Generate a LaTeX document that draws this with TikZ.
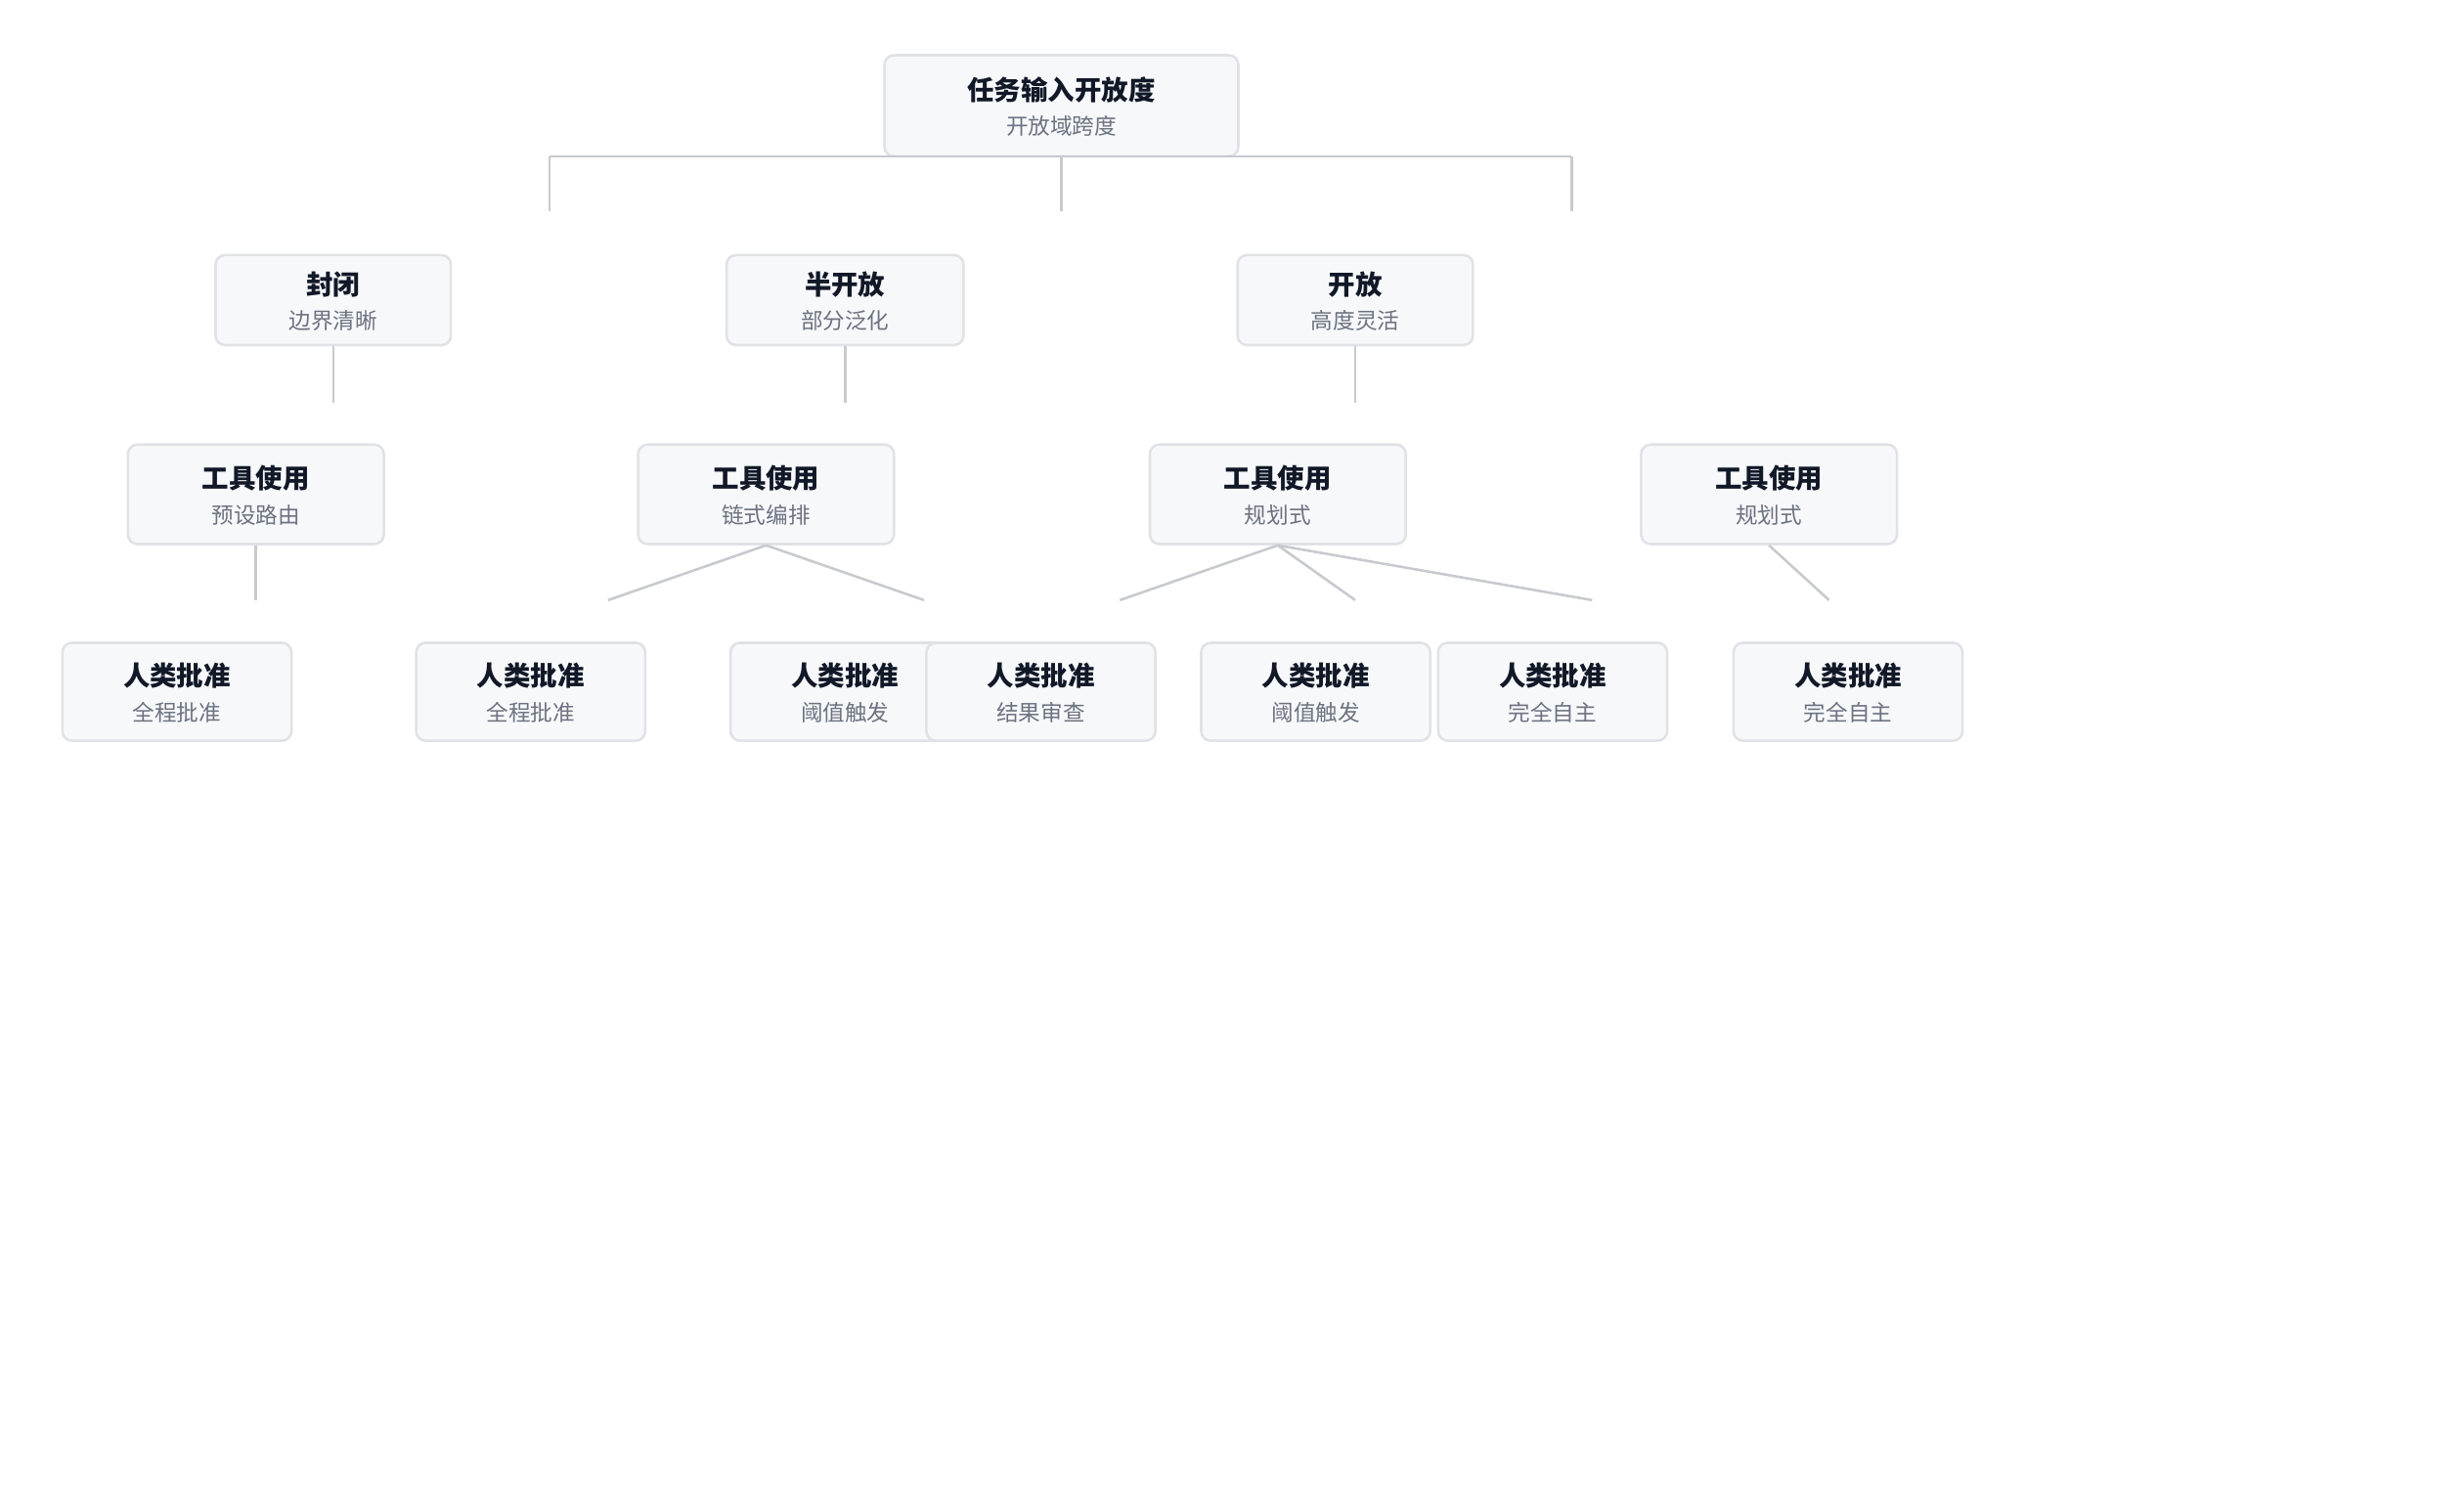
\documentclass[tikz,border=0pt]{standalone}
\usepackage{fontspec}
\newfontfamily\cjk{Noto Sans CJK SC}
\definecolor{boxfill}{HTML}{F7F8FA}
\definecolor{boxdraw}{HTML}{E0E2E6}
\definecolor{linec}{HTML}{C8CAD0}
\definecolor{tt}{HTML}{111827}
\definecolor{st}{HTML}{6B7280}
\begin{document}
\begin{tikzpicture}[x=1pt,y=-1pt,
  box/.style={draw=boxdraw,line width=1.6pt,fill=boxfill,rounded corners=6pt,align=center,inner sep=0pt,font=\cjk},
  ln/.style={draw=linec,line width=1.6pt}]
\useasboundingbox (0,0) rectangle (1560,941);
\newcommand\bx[7]{% name cx cy w h title sub
  \node[box,minimum width=#4pt,minimum height=#5pt] (#1) at (#2,#3) {};
  \node[font=\cjk\fontsize{17}{20}\selectfont\bfseries,text=tt] (#1t) at (#2,#3-10) {#6};
  \node[font=\cjk\fontsize{14}{17}\selectfont,text=st] (#1s) at (#2,#3+13) {#7};}
\bx{root}{672}{67}{224}{64}{任务输入开放度}{开放域跨度}
\coordinate (b1) at (348,99); \coordinate (b2) at (672,99); \coordinate (b3) at (995,99);
\coordinate (c1) at (348,134); \coordinate (c2) at (672,134); \coordinate (c3) at (995,134);
\draw[ln] (b1) -- (b3); \draw[ln] (b1)--(c1); \draw[ln] (b2)--(c2); \draw[ln] (b3)--(c3);
\bx{a1}{211}{190}{149}{57}{封闭}{边界清晰}
\bx{a2}{535}{190}{150}{57}{半开放}{部分泛化}
\bx{a3}{858}{190}{149}{57}{开放}{高度灵活}
\foreach \n/\x in {a1/211,a2/535,a3/858}{\coordinate (\n e) at (\x,255); \draw[ln] (\n.south)--(\n e);}
\bx{t1}{162}{313}{162}{63}{工具使用}{预设路由}
\bx{t2}{485}{313}{162}{63}{工具使用}{链式编排}
\bx{t3}{809}{313}{162}{63}{工具使用}{规划式}
\bx{t4}{1120}{313}{162}{63}{工具使用}{规划式}
\coordinate (e1) at (162,380); \coordinate (e2) at (385,380); \coordinate (e3) at (585,380);
\coordinate (e4) at (709,380); \coordinate (e5) at (858,380); \coordinate (e6) at (1008,380);
\coordinate (e7) at (1158,380);
\draw[ln] (t1.south)--(e1); \draw[ln] (t2.south)--(e2); \draw[ln] (t2.south)--(e3);
\draw[ln] (t3.south)--(e4); \draw[ln] (t3.south)--(e5); \draw[ln] (t3.south)--(e6);
\draw[ln] (t4.south)--(e7);
\bx{h1}{112}{438}{145}{62}{人类批准}{全程批准}
\bx{h2}{336}{438}{145}{62}{人类批准}{全程批准}
\bx{h3}{535}{438}{145}{62}{人类批准}{阈值触发}
\bx{h4}{659}{438}{145}{62}{人类批准}{结果审查}
\bx{h5}{833}{438}{145}{62}{人类批准}{阈值触发}
\bx{h6}{983}{438}{145}{62}{人类批准}{完全自主}
\bx{h7}{1170}{438}{145}{62}{人类批准}{完全自主}
\end{tikzpicture}
\end{document}
